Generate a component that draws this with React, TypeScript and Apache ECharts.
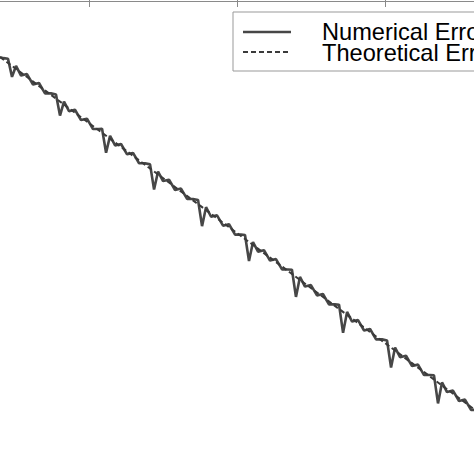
import { useEffect, useRef } from 'react'
import * as echarts from 'echarts'

// x: log10(N), y: log10(error)
const tickValues = [1, 2, 3]

const theoreticalX = [0.4, 1, 2, 3, 3.6]
const theoreticalY = [-0.957, -2.086, -3.967, -5.849, -6.978]

const numericalX = [
  0.4, 0.424, 0.454, 0.481, 0.508, 0.542, 0.582, 0.623, 0.663, 0.704, 0.744, 0.778,
  0.805, 0.832, 0.866, 0.906, 0.947, 0.987, 1.028, 1.068, 1.089,
  1.116, 1.143, 1.177, 1.217, 1.258, 1.298, 1.339, 1.379, 1.413,
  1.44, 1.467, 1.501, 1.541, 1.582, 1.622, 1.663, 1.703, 1.737,
  1.764, 1.791, 1.825, 1.865, 1.906, 1.946, 1.987, 2.027, 2.054,
  2.081, 2.108, 2.142, 2.182, 2.223, 2.263, 2.304, 2.344, 2.371,
  2.398, 2.425, 2.459, 2.499, 2.54, 2.58, 2.621, 2.661, 2.689,
  2.716, 2.743, 2.777, 2.817, 2.858, 2.898, 2.939, 2.979, 3.013,
  3.04, 3.067, 3.101, 3.141, 3.182, 3.222, 3.263, 3.303, 3.33,
  3.357, 3.384, 3.418, 3.458, 3.499, 3.539, 3.58, 3.62,
]
const numericalY = [
  -0.96, -0.977, -0.988, -1.297, -1.11, -1.274, -1.249, -1.427, -1.402, -1.579, -1.579, -1.598,
  -1.958, -1.72, -1.884, -1.859, -2.036, -2.011, -2.189, -2.189, -2.183,
  -2.595, -2.305, -2.469, -2.444, -2.621, -2.597, -2.774, -2.774, -2.793,
  -3.222, -2.915, -3.078, -3.054, -3.231, -3.206, -3.383, -3.384, -3.402,
  -3.848, -3.524, -3.688, -3.663, -3.84, -3.816, -3.993, -3.993, -3.999,
  -4.445, -4.121, -4.284, -4.26, -4.437, -4.412, -4.589, -4.59, -4.595,
  -5.058, -4.717, -4.881, -4.856, -5.033, -5.009, -5.186, -5.186, -5.193,
  -5.673, -5.315, -5.479, -5.454, -5.632, -5.607, -5.784, -5.784, -5.803,
  -6.266, -5.925, -6.089, -6.064, -6.241, -6.216, -6.394, -6.394, -6.399,
  -6.879, -6.521, -6.685, -6.66, -6.838, -6.813, -6.99, -6.99,
]

const legendNames = ['Numerical Error', 'Theoretical Error']

const AXIS_GREY = '#8a8a8a'
const LINE_GREY = '#474747'
const LEGEND_FONT = '23.6px "Liberation Sans", Arial, sans-serif'

export default function App() {
  const ref = useRef<HTMLDivElement>(null)

  useEffect(() => {
    if (!ref.current) return
    const chart = echarts.init(ref.current, undefined, { renderer: 'svg' })

    const xAxisBase = {
      type: 'value' as const,
      min: 0.4,
      max: 3.6,
      axisLabel: { show: false },
      splitLine: { show: false },
      axisLine: { show: true, lineStyle: { color: AXIS_GREY, width: 1 } },
      axisTick: {
        show: true,
        inside: true,
        length: 6,
        customValues: tickValues,
        lineStyle: { color: AXIS_GREY, width: 1 },
      },
    }

    const option: echarts.EChartsOption = {
      animation: false,
      backgroundColor: '#fff',
      grid: { left: 0, right: 0, top: 1, bottom: 5 },
      xAxis: [
        { ...xAxisBase, position: 'bottom' },
        { ...xAxisBase, position: 'top' },
      ],
      yAxis: {
        type: 'value',
        min: -8,
        max: 0,
        show: false,
      },
      series: [
        {
          name: legendNames[0],
          type: 'line',
          symbol: 'none',
          data: numericalX.map((x, i) => [x, numericalY[i]]),
          lineStyle: { color: LINE_GREY, width: 2.6 },
        },
        {
          name: legendNames[1],
          type: 'line',
          symbol: 'none',
          data: theoreticalX.map((x, i) => [x, theoreticalY[i]]),
          lineStyle: { color: '#3a3a3a', width: 2, type: [5, 3] },
        },
      ],
      graphic: [
        {
          type: 'rect',
          shape: { x: 233, y: 12, width: 300, height: 59 },
          style: { fill: '#fff', stroke: '#999', lineWidth: 1 },
          z: 10,
        },
        {
          type: 'line',
          shape: { x1: 243, y1: 32, x2: 291, y2: 32 },
          style: { stroke: LINE_GREY, lineWidth: 2.5 },
          z: 11,
        },
        {
          type: 'line',
          shape: { x1: 243, y1: 52, x2: 290, y2: 52 },
          style: { stroke: '#3a3a3a', lineWidth: 2, lineDash: [5, 3] },
          z: 11,
        },
        {
          type: 'text',
          x: 322,
          y: 32,
          style: {
            text: legendNames[0],
            font: LEGEND_FONT,
            fill: '#000',
            verticalAlign: 'middle',
          },
          z: 11,
        },
        {
          type: 'text',
          x: 322,
          y: 53,
          style: {
            text: legendNames[1],
            font: LEGEND_FONT,
            fill: '#000',
            verticalAlign: 'middle',
          },
          z: 11,
        },
      ],
    }

    chart.setOption(option)
    return () => chart.dispose()
  }, [])

  return (
    <div
      ref={ref}
      style={{ position: 'fixed', left: 0, top: 0, width: 474, height: 474 }}
    />
  )
}
